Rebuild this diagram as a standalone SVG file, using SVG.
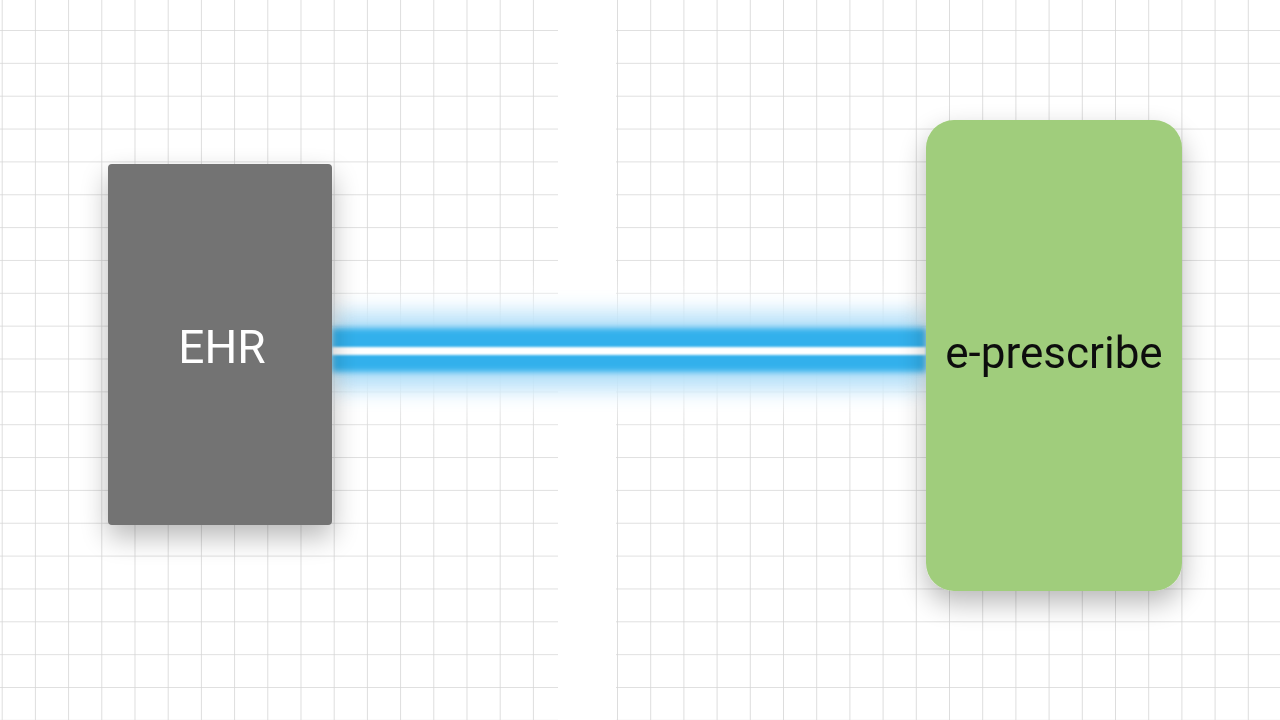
<svg xmlns="http://www.w3.org/2000/svg" width="1280" height="720" viewBox="0 0 1280 720">
  <defs>
    <pattern id="gridL" x="1.7" y="30" width="33.2" height="32.85" patternUnits="userSpaceOnUse">
      <path d="M0 0 V32.85 M0 0 H33.2" fill="none" stroke="#d6d6d6" stroke-width="1.6"/>
    </pattern>
    <pattern id="gridR" x="617" y="30" width="33.2" height="32.85" patternUnits="userSpaceOnUse">
      <path d="M0 0 V32.85 M0 0 H33.2" fill="none" stroke="#d6d6d6" stroke-width="1.6"/>
    </pattern>
    <filter id="shadow" x="-30%" y="-20%" width="160%" height="150%">
      <feGaussianBlur in="SourceAlpha" stdDeviation="14"/>
      <feOffset dx="0" dy="12" result="b"/>
      <feComponentTransfer><feFuncA type="linear" slope="0.28"/></feComponentTransfer>
      <feMerge><feMergeNode/><feMergeNode in="SourceGraphic"/></feMerge>
    </filter>
    <filter id="halo" filterUnits="userSpaceOnUse" x="300" y="200" width="660" height="300">
      <feGaussianBlur stdDeviation="18"/>
    </filter>
    <filter id="glow" filterUnits="userSpaceOnUse" x="300" y="220" width="660" height="260">
      <feGaussianBlur stdDeviation="10"/>
    </filter>
    <filter id="soft" filterUnits="userSpaceOnUse" x="300" y="280" width="660" height="140">
      <feGaussianBlur stdDeviation="3"/>
    </filter>
    <filter id="soft1" filterUnits="userSpaceOnUse" x="300" y="320" width="660" height="60">
      <feGaussianBlur stdDeviation="1.2"/>
    </filter>
    <style>
      .lbl { font-family: Roboto, "Liberation Sans", sans-serif; text-anchor: middle; }
    </style>
  </defs>
  <rect width="1280" height="720" fill="#ffffff"/>
  <rect x="0" y="0" width="558" height="720" fill="url(#gridL)"/>
  <rect x="616" y="0" width="664" height="720" fill="url(#gridR)"/>

  <g id="connectors">
    <rect x="332" y="300" width="594" height="104" fill="#ffffff" filter="url(#halo)" opacity="0.8"/>
    <rect x="332" y="312" width="594" height="78" fill="#aadcf8" filter="url(#glow)" opacity="0.85"/>
    <rect x="332" y="328" width="594" height="44" fill="#33b0ec" filter="url(#soft)"/>
    <rect x="332" y="347" width="594" height="8" fill="#ffffff" filter="url(#soft1)"/>
  </g>

  <g id="node-ehr" filter="url(#shadow)">
    <rect x="108" y="164" width="224" height="361" rx="4" fill="#737373"/>
    <text class="lbl" x="222" y="363" font-size="46" fill="#ffffff">EHR</text>
  </g>

  <g id="node-eprescribe" filter="url(#shadow)">
    <rect x="926" y="120" width="256" height="471" rx="28" fill="#a0cd7b"/>
    <text class="lbl" x="1054" y="368" font-size="44" fill="#111111">e-prescribe</text>
  </g>
</svg>
